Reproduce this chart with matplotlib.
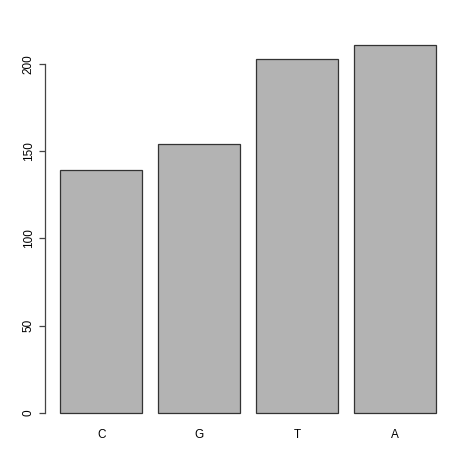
import matplotlib
matplotlib.use("Agg")
import matplotlib.pyplot as plt

bases = ["C", "G", "T", "A"]
counts = [139, 154, 203, 211]
yticks = [0, 50, 100, 150, 200]

plt.rcParams["font.family"] = ["Liberation Sans", "DejaVu Sans"]

fig = plt.figure(figsize=(4.74, 4.74), dpi=100)
ax = fig.add_axes([0.0956, 0.0977, 0.951 - 0.0956, 0.9365 - 0.0977])

# R barplot layout: width 1, space 0.2
pos = [0.2 + 1.2 * i + 0.5 for i in range(len(bases))]
ax.bar(pos, counts, width=1.0, color="#b3b3b3", edgecolor="#333333", linewidth=0.9)

ax.set_xlim(0.016, 4.984)
ax.set_ylim(-0.04 * max(counts), 1.04 * max(counts))

for s in ["top", "right", "bottom"]:
    ax.spines[s].set_visible(False)
ax.spines["left"].set_bounds(0, 200)
ax.spines["left"].set_color("#444444")
ax.spines["left"].set_linewidth(0.9)

ax.set_yticks(yticks)
ax.set_yticklabels([str(t) for t in yticks], rotation=90, va="center", fontsize=8.5)
ax.tick_params(axis="y", length=4, width=0.9, color="#444444", pad=3.5)
ax.set_xticks(pos)
ax.set_xticklabels(bases, fontsize=8.5)
ax.tick_params(axis="x", length=0, pad=1)

fig.savefig("out.png", dpi=100)
